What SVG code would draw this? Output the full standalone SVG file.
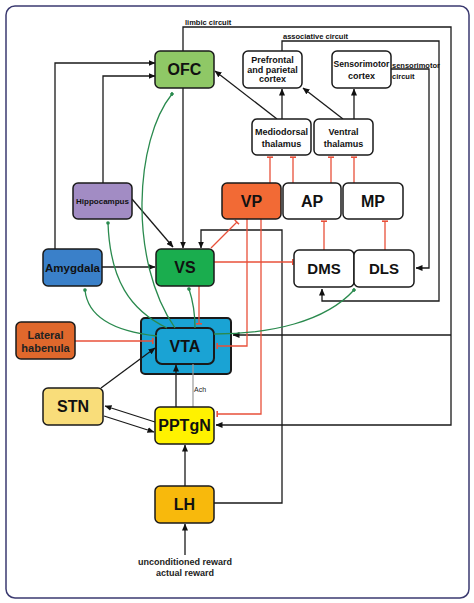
<svg xmlns="http://www.w3.org/2000/svg" width="474" height="603" viewBox="0 0 474 603">
<defs>
<marker id="arr" markerWidth="7" markerHeight="6" refX="6.5" refY="3" orient="auto" markerUnits="userSpaceOnUse"><path d="M0,0 L7,3 L0,6 z" fill="#111"/></marker>
<marker id="tee" markerWidth="2" markerHeight="6" refX="1" refY="3" orient="auto" markerUnits="userSpaceOnUse"><rect x="0" y="0" width="1.6" height="6" fill="#e8503a"/></marker>
<marker id="dot" markerWidth="4" markerHeight="4" refX="2" refY="2" orient="auto" markerUnits="userSpaceOnUse"><circle cx="2" cy="2" r="1.8" fill="#2a8a4e"/></marker>
</defs>
<style>
.box{stroke:#1a1a1a;stroke-width:1.5}
.t{font-family:"Liberation Sans",Arial,sans-serif;font-weight:bold;fill:#111;text-anchor:middle}
.big{font-size:16px}
.med{font-size:15px}
.sm{font-size:9px}
.lbl{font-family:"Liberation Sans",Arial,sans-serif;font-weight:bold;font-size:7.5px;fill:#111}
.k{fill:none;stroke:#1a1a1a;stroke-width:1.3}
.r{fill:none;stroke:#e8503a;stroke-width:1.3}
.g{fill:none;stroke:#2a8a4e;stroke-width:1.3}
</style>
<rect x="6" y="6" width="463" height="592" rx="9" fill="#fff" stroke="#3b3a70" stroke-width="1.5"/>

<g id="VTA"><rect x="141" y="318" width="90" height="56" rx="4" fill="#1aa3d4" stroke="#1a1a1a" stroke-width="2"/><rect x="156" y="328" width="58" height="36" rx="6" fill="#1aa3d4" stroke="#1a1a1a" stroke-width="2"/><text class="t big" x="185" y="351.5">VTA</text></g>

<g id="connectors">
<!-- circuits -->
<polyline class="k" points="183,51 183,27 451,27 451,425 216,425" marker-end="url(#arr)"/>
<polyline class="k" points="451,335 233,335" marker-end="url(#arr)"/>
<polyline class="k" points="282,51 282,41 439,41 439,301 322,301 322,289" marker-end="url(#arr)"/>
<polyline class="k" points="391,69 429,69 429,268 416,268" marker-end="url(#arr)"/>
<!-- to OFC -->
<polyline class="k" points="103,183 103,76 155,76" marker-end="url(#arr)"/>
<polyline class="k" points="55,249 55,63 155,63" marker-end="url(#arr)"/>
<line class="k" x1="277" y1="119" x2="215" y2="71" marker-end="url(#arr)"/>
<!-- thalamus to cortex -->
<line class="k" x1="282" y1="119" x2="282" y2="89" marker-end="url(#arr)"/>
<line class="k" x1="343" y1="119" x2="303" y2="88" marker-end="url(#arr)"/>
<line class="k" x1="354" y1="119" x2="354" y2="89" marker-end="url(#arr)"/>
<!-- to VS -->
<line class="k" x1="183" y1="88" x2="183" y2="248" marker-end="url(#arr)"/>
<line class="k" x1="132" y1="199" x2="173" y2="247" marker-end="url(#arr)"/>
<line class="k" x1="102" y1="267" x2="155" y2="267" marker-end="url(#arr)"/>
<polyline class="k" points="214,503 282,503 282,230 201,230 201,248" marker-end="url(#arr)"/>
<!-- lower -->
<line class="k" x1="101" y1="388" x2="155" y2="348" marker-end="url(#arr)"/>
<line class="k" x1="155" y1="422" x2="105" y2="406" marker-end="url(#arr)"/>
<line class="k" x1="104" y1="416" x2="154" y2="432" marker-end="url(#arr)"/>
<line class="k" x1="176" y1="407" x2="176" y2="365" marker-end="url(#arr)"/>
<line x1="193" y1="407" x2="193" y2="364" stroke="#9a9a9a" stroke-width="1.2"/>
<line class="k" x1="185" y1="486" x2="185" y2="445" marker-end="url(#arr)"/>
<line class="k" x1="185" y1="555" x2="185" y2="524" marker-end="url(#arr)"/>
<!-- red inhibitory -->
<line class="r" x1="270" y1="183" x2="270" y2="157" marker-end="url(#tee)"/>
<line class="r" x1="293" y1="183" x2="293" y2="157" marker-end="url(#tee)"/>
<line class="r" x1="331" y1="183" x2="331" y2="157" marker-end="url(#tee)"/>
<line class="r" x1="354" y1="183" x2="354" y2="157" marker-end="url(#tee)"/>
<line class="r" x1="324" y1="250" x2="324" y2="221" marker-end="url(#tee)"/>
<line class="r" x1="385" y1="250" x2="385" y2="221" marker-end="url(#tee)"/>
<line class="r" x1="211" y1="248" x2="237" y2="222" marker-end="url(#tee)"/>
<line class="r" x1="214" y1="262" x2="293" y2="262" marker-end="url(#tee)"/>
<line class="r" x1="199" y1="286" x2="199" y2="324" marker-end="url(#tee)"/>
<line class="r" x1="75" y1="341" x2="153" y2="341" marker-end="url(#tee)"/>
<polyline class="r" points="247,219 247,346 217,346" marker-end="url(#tee)"/>
<polyline class="r" points="261,219 261,414 217,414" marker-end="url(#tee)"/>
<!-- green dopamine -->
<path class="g" d="M175,328 C128,260 135,140 172,94" marker-end="url(#dot)"/>
<path class="g" d="M167,328 C130,310 110,280 108,223" marker-end="url(#dot)"/>
<path class="g" d="M157,336 C120,332 88,320 85,290" marker-end="url(#dot)"/>
<path class="g" d="M195,328 C195,310 192,298 189,289" marker-end="url(#dot)"/>
<path class="g" d="M214,334 C270,334 325,322 354,290" marker-end="url(#dot)"/>
</g>

<g id="OFC"><rect class="box" x="155" y="51" width="59" height="37" rx="5" fill="#8fc866"/><text class="t big" x="184.5" y="75">OFC</text></g>
<g id="PFC"><rect class="box" x="243" y="51" width="59" height="37" rx="5" fill="#fff"/><text class="t sm" x="272.5" y="62.5">Prefrontal</text><text class="t sm" x="272.5" y="72.5">and parietal</text><text class="t sm" x="272.5" y="82">cortex</text></g>
<g id="SMC"><rect class="box" x="332" y="51" width="59" height="37" rx="5" fill="#fff"/><text class="t" style="font-size:8.6px" x="361.5" y="67">Sensorimotor</text><text class="t sm" x="361.5" y="78.5">cortex</text></g>
<g id="MDT"><rect class="box" x="252" y="119" width="59" height="36" rx="5" fill="#fff"/><text class="t sm" x="281.5" y="134.5">Mediodorsal</text><text class="t sm" x="281.5" y="146.5">thalamus</text></g>
<g id="VT"><rect class="box" x="314" y="119" width="59" height="36" rx="5" fill="#fff"/><text class="t sm" x="343.5" y="134.5">Ventral</text><text class="t sm" x="343.5" y="146.5">thalamus</text></g>
<g id="Hippocampus"><rect class="box" x="73" y="183" width="59" height="36" rx="5" fill="#a28cc4"/><text class="t" style="font-size:8px" x="102.5" y="204">Hippocampus</text></g>
<g id="VP"><rect class="box" x="222" y="183" width="59" height="36" rx="5" fill="#f26a35"/><text class="t big" x="251.5" y="206.5">VP</text></g>
<g id="AP"><rect class="box" x="283" y="183" width="58" height="36" rx="5" fill="#fff"/><text class="t big" x="312" y="206.5">AP</text></g>
<g id="MP"><rect class="box" x="343" y="183" width="60" height="36" rx="5" fill="#fff"/><text class="t big" x="373" y="206.5">MP</text></g>
<g id="Amygdala"><rect class="box" x="43" y="249" width="59" height="37" rx="5" fill="#3a80c9"/><text class="t" style="font-size:11.5px" x="72.5" y="271.5">Amygdala</text></g>
<g id="VS"><rect class="box" x="156" y="249" width="58" height="37" rx="5" fill="#1aad4e"/><text class="t big" x="185" y="273">VS</text></g>
<g id="DMS"><rect class="box" x="294" y="250" width="60" height="37" rx="5" fill="#fff"/><text class="t med" x="324" y="274">DMS</text></g>
<g id="DLS"><rect class="box" x="354" y="250" width="60" height="37" rx="5" fill="#fff"/><text class="t med" x="384" y="274">DLS</text></g>
<g id="LHb"><rect class="box" x="16" y="322" width="59" height="37" rx="5" fill="#e0682c"/><text class="t" style="font-size:11px;fill:#222" x="45.5" y="339">Lateral</text><text class="t" style="font-size:11px;fill:#222" x="45.5" y="352">habenula</text></g>
<g id="STN"><rect class="box" x="43" y="388" width="60" height="37" rx="5" fill="#f9dd7a"/><text class="t big" x="73" y="412">STN</text></g>
<g id="PPTgN"><rect class="box" x="155" y="407" width="59" height="37" rx="5" fill="#fff200"/><text class="t big" x="184.5" y="431">PPTgN</text></g>
<g id="LH"><rect class="box" x="155" y="486" width="59" height="37" rx="5" fill="#f8b90c"/><text class="t big" x="184.5" y="510">LH</text></g>

<g id="labels">
<text class="lbl" x="185" y="24.5">limbic circuit</text>
<text class="lbl" x="283" y="39">associative circuit</text>
<text class="lbl" x="392" y="67.5">sensorimotor</text>
<text class="lbl" x="392" y="78.5">circuit</text>
<text x="194" y="392" style="font-family:'Liberation Sans',Arial,sans-serif;font-size:7px;fill:#222">Ach</text>
<text class="t" style="font-size:9px;fill:#222" x="185" y="565">unconditioned reward</text>
<text class="t" style="font-size:9px;fill:#222" x="185" y="576">actual reward</text>
</g>
</svg>
